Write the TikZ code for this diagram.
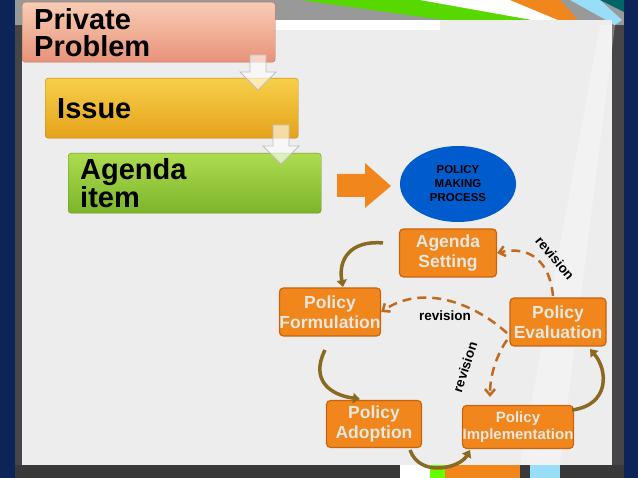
\documentclass[tikz,border=0pt]{standalone}
\usepackage{fontspec}
\setmainfont{Liberation Sans}
\usetikzlibrary{arrows.meta,shapes.geometric}
\definecolor{navy}{HTML}{0C2457}
\definecolor{panel}{HTML}{EDEDED}
\definecolor{orng}{HTML}{F0861C}
\definecolor{obord}{HTML}{C8640E}
\definecolor{olive}{HTML}{8A6A22}
\definecolor{dash}{HTML}{C4681E}
\definecolor{btxt}{HTML}{E6E8E0}
\definecolor{ppt}{HTML}{F8CDB6}\definecolor{ppb}{HTML}{E8927A}
\definecolor{ist}{HTML}{F7CF4A}\definecolor{isb}{HTML}{E5A21A}
\definecolor{agt}{HTML}{AEDB50}\definecolor{agb}{HTML}{7BB52A}
\tikzset{
 big/.style={draw=#1,rounded corners=3pt,minimum width=253pt,minimum height=60pt,anchor=north west,text width=245pt,align=left,font=\bfseries\fontsize{29}{27}\selectfont,inner sep=0pt},
 stepbox/.style={draw=obord,line width=1.2pt,fill=orng,rounded corners=4pt,text=btxt,font=\bfseries\fontsize{17.5}{20}\selectfont,align=center,inner sep=0pt},
 cyc/.style={-{Triangle[width=10pt,length=7pt]},line width=3.5pt,draw=olive},
 rev/.style={-{Straight Barb[width=10pt,length=6pt]},line width=2.5pt,draw=dash,dash pattern=on 9pt off 6pt},
 revl/.style={font=\bfseries\fontsize{13.5}{13}\selectfont,text=black},
 downar/.style={fill=white,fill opacity=0.6,draw=gray!50,line width=0.8pt}
}
\begin{document}
\begin{tikzpicture}[x=1pt,y=-1pt]
\useasboundingbox (0,0) rectangle (638,478);
\fill[navy] (0,0) rectangle (638,478);
\fill[gray!55!black] (15,0) rectangle (624,470);
\fill[gray!80] (15,0) rectangle (624,25);
% top streaks
\fill[green!60!yellow!85!black] (300,0) -- (430,0) -- (570,25) -- (480,25) -- cycle;
\fill[white] (420,0) -- (520,0) -- (590,25) -- (560,25) -- cycle;
\fill[orng] (510,0) -- (560,0) -- (582,25) -- (570,25) -- cycle;
\fill[cyan!40] (570,0) -- (600,0) -- (622,20) -- (615,25) -- cycle;
\fill[teal!80!black] (600,0) -- (624,0) -- (624,12) -- cycle;
\fill[panel] (22,20) rectangle (612,465);
\fill[white] (22,20) rectangle (440,30);
% faint streak in panel
\fill[white,opacity=0.3] (600,25) -- (615,25) -- (560,465) -- (520,465) -- cycle;
% bottom strip
\fill[gray!45!black] (15,465) rectangle (624,478);
\fill[white] (400,465) rectangle (430,478);
\fill[green!60!yellow] (430,465) rectangle (445,478);
\fill[orng] (445,465) rectangle (520,478);
\fill[cyan!40] (530,465) rectangle (560,478);

% top-left boxes
\node[big=ppb!80!black,top color=ppt,bottom color=ppb] (pp) at (22,2) {\hspace*{8pt}Private\\\hspace*{8pt}Problem};
\node[big=isb!80!black,top color=ist,bottom color=isb] (is) at (45,78) {\hspace*{8pt}Issue};
\node[big=agb!80!black,top color=agt,bottom color=agb] (ai) at (68,153) {\hspace*{8pt}Agenda\\\hspace*{8pt}item};
% down arrows
\draw[downar] (250,55) -- (266,55) -- (266,72) -- (276,72) -- (258,90) -- (240,72) -- (250,72) -- cycle;
\draw[downar] (273,125) -- (289,125) -- (289,146) -- (299,146) -- (281,164) -- (263,146) -- (273,146) -- cycle;
% orange arrow
\fill[orng] (337,174) -- (365,174) -- (365,163) -- (391,186) -- (365,208) -- (365,197) -- (337,197) -- cycle;
\node[ellipse,fill=blue!55!cyan!80!black,minimum width=116pt,minimum height=76pt,align=center,font=\bfseries\fontsize{11.5}{14}\selectfont] (pmp) at (458,184) {POLICY\\MAKING\\PROCESS};

\node[stepbox,minimum width=97pt,minimum height=48pt] (as) at (448,253) {Agenda\\Setting};
\node[stepbox,minimum width=97pt,minimum height=48pt] (pf) at (330,312) {Policy\\Formulation};
\node[stepbox,minimum width=96pt,minimum height=48pt] (pe) at (558,322) {Policy\\Evaluation};
\node[stepbox,minimum width=95pt,minimum height=47pt] (pa) at (374,424) {Policy\\Adoption};
\node[stepbox,minimum width=104pt,minimum height=43pt,font=\bfseries\fontsize{15}{17}\selectfont] (pi) at (518,427) {Policy\\Implementation};

\coordinate (a1) at (383,243);
\coordinate (f1) at (343,287);
\coordinate (f2) at (325,350);
\coordinate (d1) at (360,399);
\coordinate (d2) at (410,450);
\coordinate (i1) at (470,450);
\coordinate (i2) at (572,410);
\coordinate (e1) at (590,349);
\coordinate (e2) at (553,296);
\coordinate (e3) at (507,333);
\coordinate (e4) at (507,340);
\coordinate (i3) at (490,397);
\draw[cyc] (a1) .. controls (350,240) and (338,260) .. (f1);
\draw[cyc] (f2) .. controls (310,380) and (330,395) .. (d1);
\draw[cyc] (d2) .. controls (420,478) and (460,468) .. (i1);
\draw[cyc] (i2) .. controls (610,405) and (608,370) .. (e1);

\draw[rev] (e2) .. controls (550,262) and (530,245) .. (as.east);
\draw[rev] (e3) .. controls (470,300) and (420,285) .. (pf.east);
\draw[rev] (e4) .. controls (500,350) and (490,370) .. (i3);
\node[revl,rotate=-50] (r1) at (555,258) {revision};
\node[revl] (r2) at (445,316) {revision};
\node[revl,rotate=72] (r3) at (465,367) {revision};
\end{tikzpicture}
\end{document}
